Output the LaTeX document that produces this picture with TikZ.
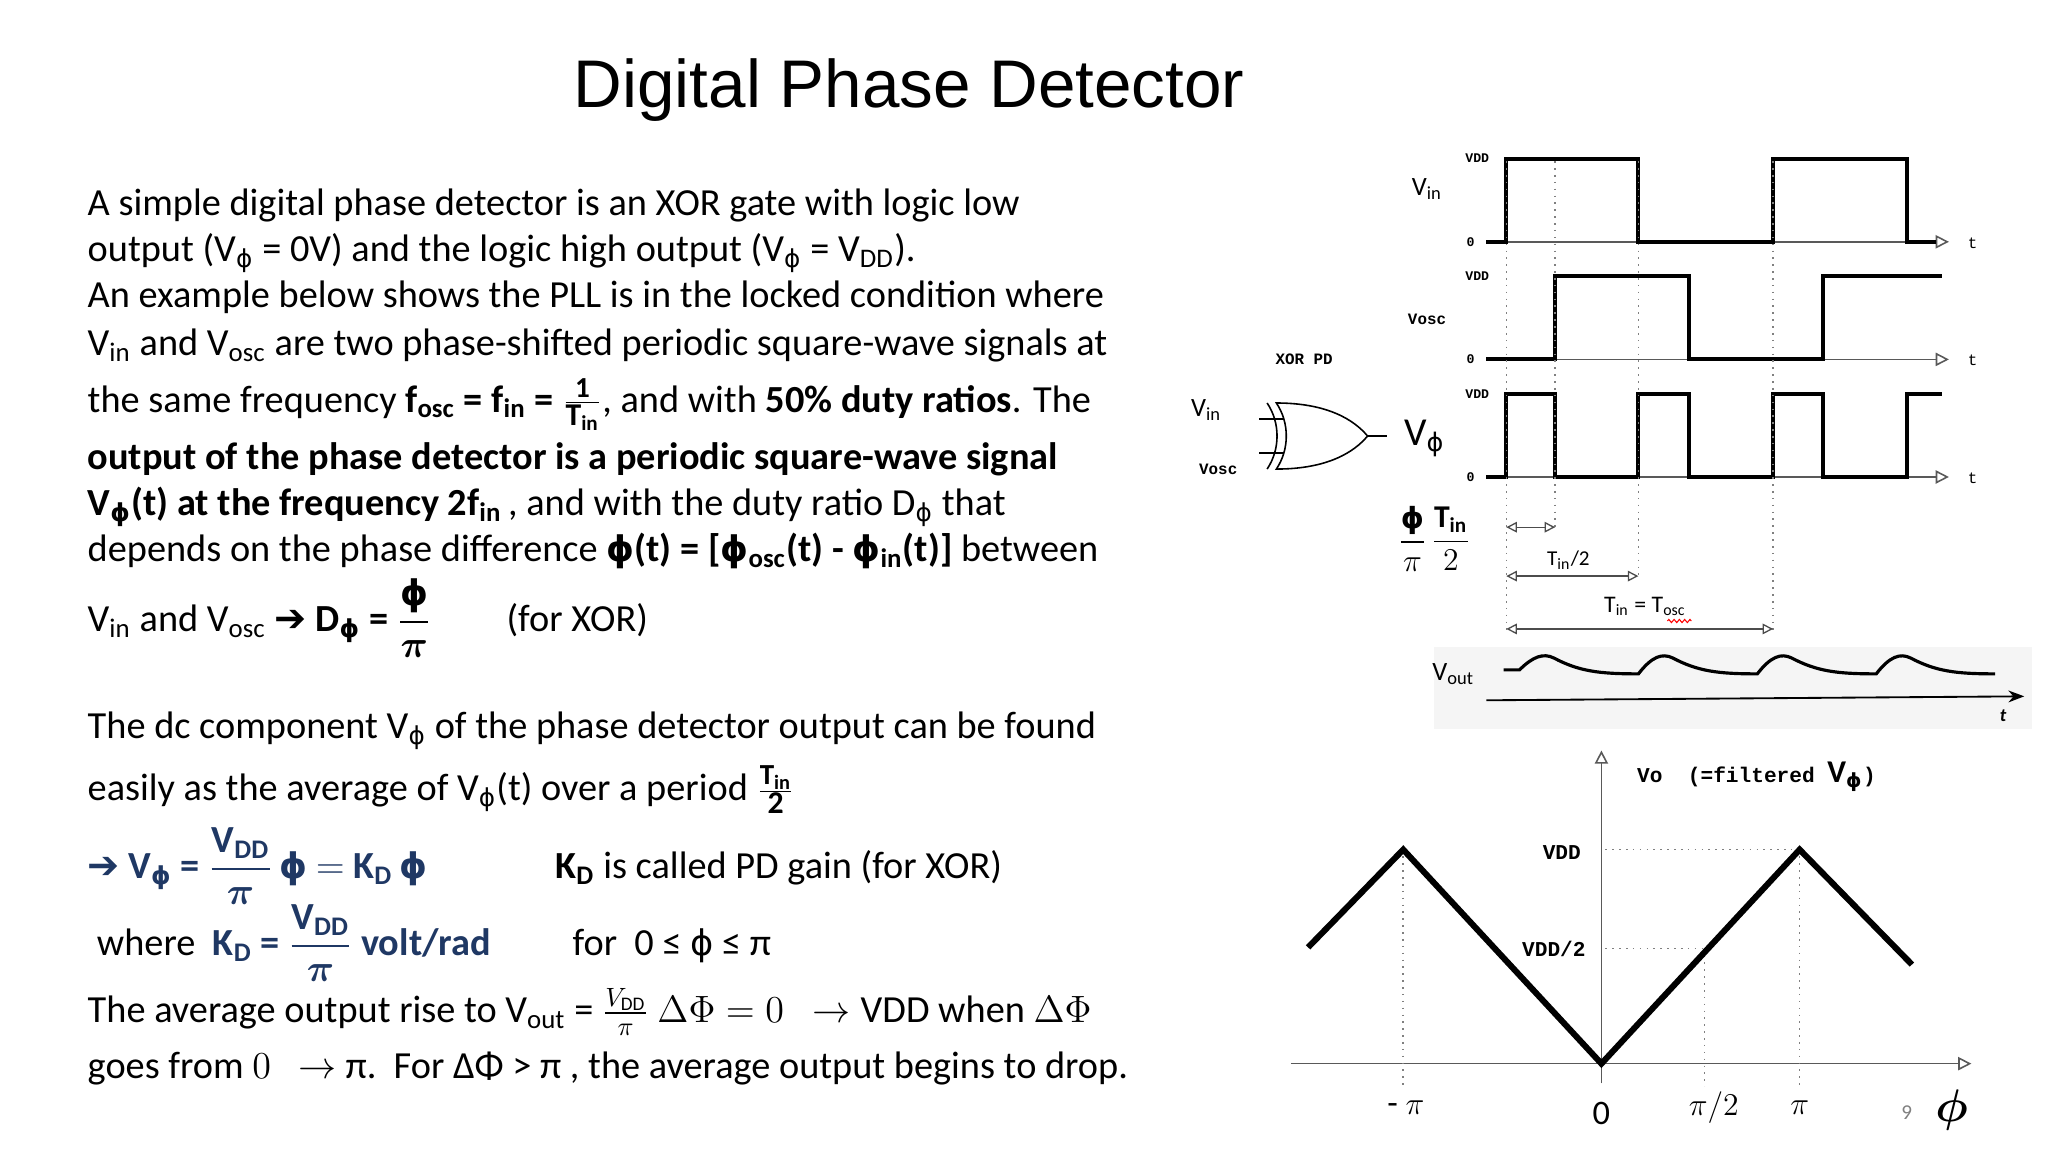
\documentclass[tikz,border=0pt]{standalone}
\usepackage{fontspec}
\usepackage{amsmath}
\setmainfont{Carlito}
\newfontfamily\titlefont{Liberation Sans}
\newfontfamily\dv{DejaVu Sans}
\newfontfamily\mono{Liberation Mono}
\usetikzlibrary{arrows.meta,decorations.pathmorphing}
\definecolor{navy}{RGB}{31,56,100}
\newcommand{\sbs}[1]{\textsubscript{#1}}
\newcommand{\ph}{{\dv\scalebox{0.92}{ϕ}}}
\newcommand{\arr}{{\dv ➔}}
\newcommand{\cf}[2]{$\genfrac{}{}{0.5pt}{1}{\hbox{\fontsize{11}{11}\selectfont\bfseries #1}}{\hbox{\fontsize{12}{12}\selectfont\bfseries #2}}$}
\begin{document}
\begin{tikzpicture}[x=0.5pt,y=-0.5pt,
  body/.style={anchor=base west,inner sep=0,font=\fontsize{14.5}{17}\selectfont},
  wave/.style={line width=1.5pt},
  axis/.style={line width=0.6pt,gray!70!black,-{Triangle[open,length=5pt,width=5pt]}},
  dots/.style={gray,dotted,line width=0.6pt},
  dim/.style={line width=0.5pt,gray!60!black,{Triangle[open,length=4pt,width=4pt]}-{Triangle[open,length=4pt,width=4pt]}},
  sm/.style={font=\mono\bfseries\fontsize{5}{6}\selectfont,inner sep=1pt},
  lab/.style={font=\fontsize{10}{11}\selectfont,inner sep=1pt}]
\useasboundingbox (0,0) rectangle (1550,872);
\node (title) at (688,68) {\titlefont\fontsize{25.5}{28}\selectfont Digital Phase Detector};
% text
\node[body] (l1) at (66,163) {A simple digital phase detector is an XOR gate with logic low};
\node[body] (l2) at (66,198) {output (V\sbs{\ph} = 0V) and the logic high output (V\sbs{\ph} = V\sbs{DD}).};
\node[body] (l3) at (66,233) {An example below shows the PLL is in the locked condition where};
\node[body] (l4) at (66,269) {V\sbs{in} and V\sbs{osc} are two phase-shifted periodic square-wave signals at};
\node[body] (l5) at (66,312) {the same frequency \textbf{f\sbs{osc} = f\sbs{in} =} \cf{1}{T\sbs{in}}, and with \textbf{50\% duty ratios}. The};
\node[body] (l6) at (66,355) {\textbf{output of the phase detector is a periodic square-wave signal}};
\node[body] (l7) at (66,390) {\textbf{V\sbs{\ph}(t) at the frequency 2f\sbs{in}}\,, and with the duty ratio D\sbs{\ph} that};
\node[body] (l8) at (66,425) {depends on the phase difference \textbf{\ph(t) = [\ph\sbs{osc}(t) - \ph\sbs{in}(t)]} between};
\node[body] (l9) at (66,478) {V\sbs{in} and V\sbs{osc} \arr\ \textbf{D\sbs{\ph} =} $\dfrac{\text{\bfseries\ph}}{\boldsymbol{\pi}}$};
\node[body] (l9b) at (383,478) {(for XOR)};
\node[body] (l10) at (66,559) {The dc component V\sbs{\ph} of the phase detector output can be found};
\node[body] (l11) at (66,606) {easily as the average of V\sbs{\ph}(t) over a period \cf{T\sbs{in}}{2}};
\node[body,text=navy] (l12) at (66,665) {\bfseries\arr\ V\sbs{\ph} = $\dfrac{\text{\bfseries V\sbs{DD}}}{\boldsymbol{\pi}}$\,\ph\ $=$ K\sbs{D}\,\ph};
\node[body] (l12b) at (420,665) {\textbf{K\sbs{D}} is called PD gain (for XOR)};
\node[body] (l13) at (73,723) {where \ \textcolor{navy}{\bfseries K\sbs{D} = $\dfrac{\text{\bfseries V\sbs{DD}}}{\boldsymbol{\pi}}$ volt/rad}};
\node[body] (l13b) at (433,723) {for \ 0 ≤ \ph\ ≤ π};
\node[body] (l14) at (66,774) {The average output rise to V\sbs{out} = $\frac{V_{\rm DD}}{\pi}\ \Delta\Phi = 0\ \ \rightarrow \mathrm{VDD}$ when $\Delta\Phi$};
\node[body] (l15) at (66,816) {goes from $0\ \ \rightarrow$ π.\ \ For ΔΦ > π , the average output begins to drop.};
% gate
\node[lab] (vinG) at (913,310) {V\sbs{in}};
\node[sm,font=\mono\bfseries\fontsize{6}{7}\selectfont] (voscG) at (922,355) {Vosc};
\node[sm,font=\mono\bfseries\fontsize{6}{7}\selectfont] (xorpd) at (987,272) {XOR PD};
\draw[line width=0.6pt] (966,305) .. controls (1005,305) and (1025,318) .. (1035,330) .. controls (1025,342) and (1005,355) .. (966,355) .. controls (976,340) and (976,320) .. (966,305) -- cycle;
\draw[line width=0.6pt] (959,305) .. controls (969,320) and (969,340) .. (959,355);
\draw[line width=0.6pt] (953,317) -- (971,317) (953,343) -- (971,343) (1035,330) -- (1050,330);
\node[font=\fontsize{15}{16}\selectfont,inner sep=1pt] (vphG) at (1078,332) {V\sbs{\ph}};
% waveforms
\foreach \b/\t in {183/120,272/209,361/298}{
  \draw[axis] (1125,\b) -- (1475,\b);
  \node[sm] at (1118,\t) {VDD};
  \node[sm] at (1113,\b) {0};
  \node[sm,font=\mono\fontsize{6}{7}\selectfont] at (1493,\b+1) {t};
}
\node[lab] (vinL) at (1080,143) {V\sbs{in}};
\node[sm,font=\mono\bfseries\fontsize{6}{7}\selectfont] (voscL) at (1080,242) {Vosc};
\draw[wave] (1125,183) -- (1140,183) -- (1140,120) -- (1240,120) -- (1240,183) -- (1342,183) -- (1342,120) -- (1443,120) -- (1443,183) -- (1465,183);
\draw[wave] (1125,272) -- (1177,272) -- (1177,209) -- (1278,209) -- (1278,272) -- (1380,272) -- (1380,209) -- (1470,209);
\draw[wave] (1125,361) -- (1140,361) -- (1140,298) -- (1177,298) -- (1177,361) -- (1240,361) -- (1240,298) -- (1278,298) -- (1278,361) -- (1342,361) -- (1342,298) -- (1380,298) -- (1380,361) -- (1443,361) -- (1443,298) -- (1470,298);
\foreach \x/\e in {1140/478,1177/400,1240/438,1342/478} \draw[dots] (\x,122) -- (\x,\e);
\node[inner sep=0,font=\fontsize{12}{13}\selectfont] (pf) at (1069,408) {$\dfrac{\text{\bfseries\ph}}{\pi}$};
\node[inner sep=0,font=\fontsize{12}{13}\selectfont] (tf) at (1098,408) {$\dfrac{\text{\bfseries T\sbs{in}}}{2}$};
\draw[dim] (1140,399) -- (1177,399);
\node[font=\fontsize{8}{9}\selectfont] (th) at (1187,424) {T\sbs{in}/2};
\draw[dim] (1140,436) -- (1240,436);
\node[font=\fontsize{9}{10}\selectfont] (tt) at (1245,459) {T\sbs{in} = T\sbs{osc}};
\draw[red,line width=0.4pt,decorate,decoration={zigzag,segment length=2pt,amplitude=0.6pt}] (1262,470) -- (1280,470);
\draw[dim] (1140,476) -- (1342,476);
% Vout panel
\fill[gray!8] (1085,490) rectangle (1538,552);
\node[lab] (vout) at (1100,510) {V\sbs{out}};
\draw[line width=1.2pt] (1138,507) -- (1150,507)
  \foreach \s in {1150,1240,1330,1420} { .. controls (\s+10,497) and (\s+18,494) .. (\s+26,498) .. controls (\s+45,508) and (\s+60,510) .. (\s+90,510) };
\draw[line width=0.7pt,-{Stealth[length=6pt]}] (1125,530) -- (1532,527);
\node[font=\itshape\bfseries\fontsize{7}{8}\selectfont] (tv) at (1516,542) {t};
% bottom graph
\draw[axis] (977,805) -- (1492,805);
\draw[axis] (1212,820) -- (1212,568);
\draw[dots] (1215,643) -- (1362,643) (1215,718) -- (1290,718);
\draw[dots] (1062,643) -- (1062,822) (1290,718) -- (1290,822) (1362,643) -- (1362,822);
\draw[line width=2.3pt,line join=miter] (990,717) -- (1062,643) -- (1212,805) -- (1362,643) -- (1447,730);
\node[sm,font=\mono\bfseries\fontsize{8}{9}\selectfont] (vdd) at (1182,645) {VDD};
\node[sm,font=\mono\bfseries\fontsize{8}{9}\selectfont] (vdd2) at (1176,718) {VDD/2};
\node[font=\mono\bfseries\fontsize{8}{9}\selectfont,anchor=west] (vo) at (1232,588) {Vo \ (=filtered \textrm{\fontsize{12}{13}\selectfont V\sbs{\ph}})};
\node[font=\fontsize{13}{14}\selectfont] (mpi) at (1064,838) {- $\pi$};
\node[font=\fontsize{13}{14}\selectfont] (z) at (1212,843) {0};
\node[font=\fontsize{13}{14}\selectfont] (p2) at (1297,838) {$\pi/2$};
\node[font=\fontsize{13}{14}\selectfont] (pp) at (1362,838) {$\pi$};
\node[font=\fontsize{8}{9}\selectfont,text=gray] (pg) at (1443,842) {9};
\node[font=\fontsize{16}{17}\selectfont] (phx) at (1477,840) {$\boldsymbol{\phi}$};
\end{tikzpicture}
\end{document}
